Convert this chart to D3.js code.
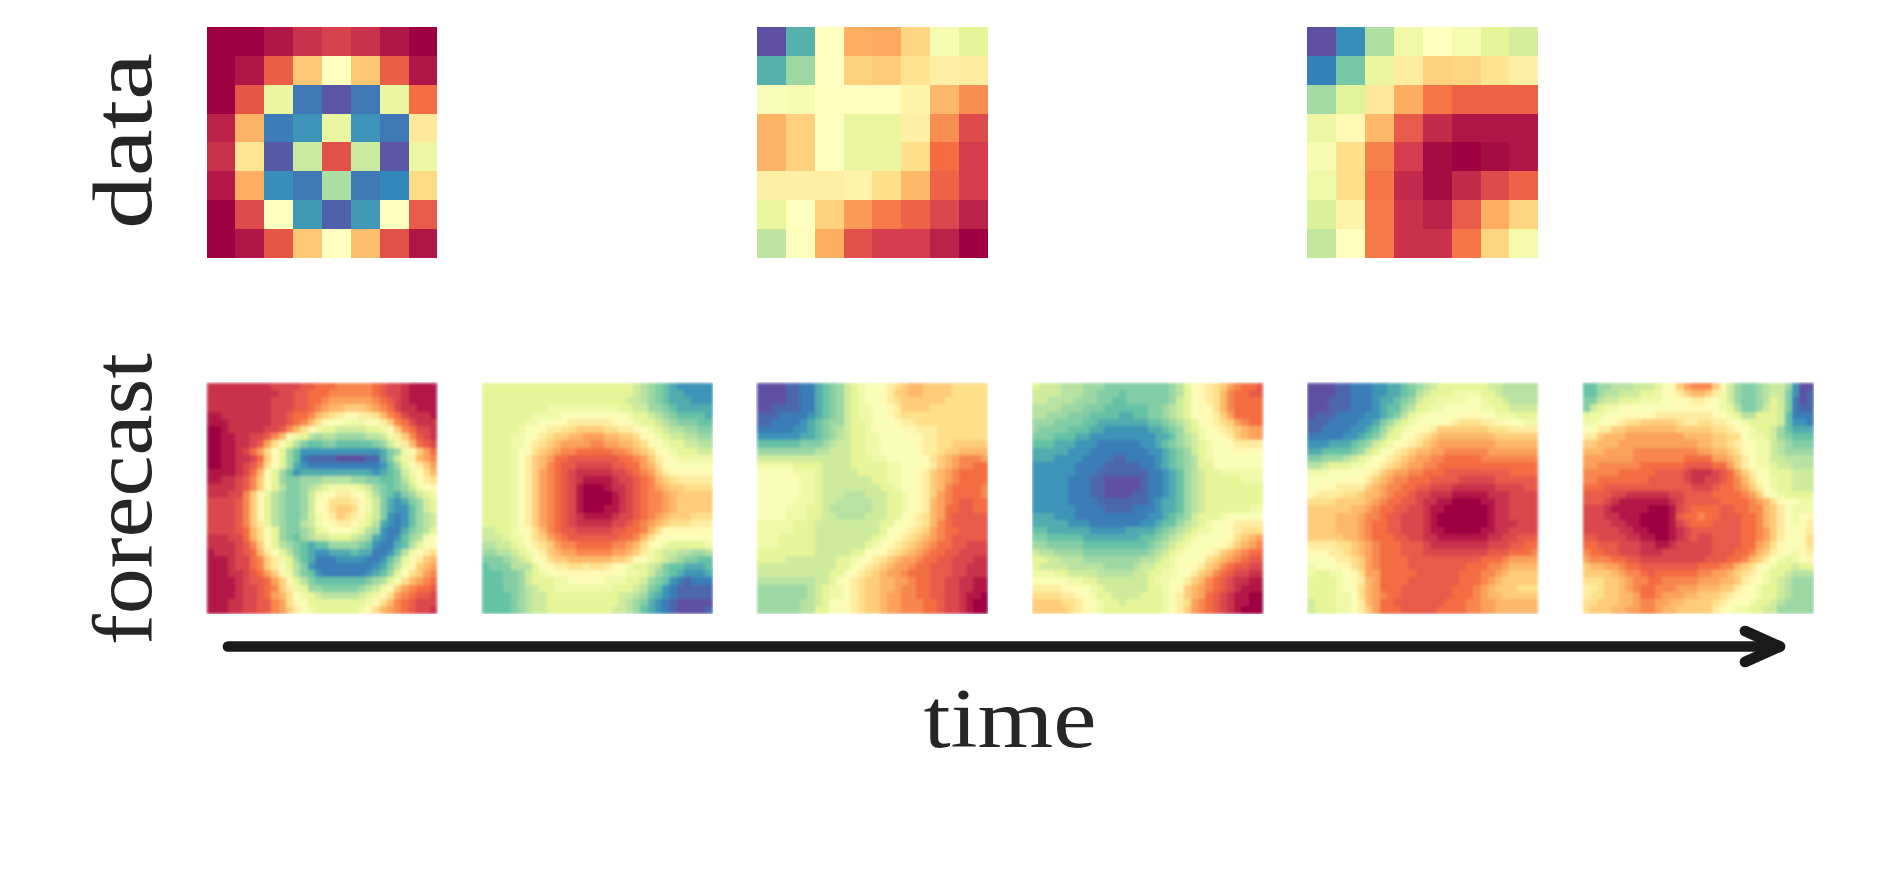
<!DOCTYPE html>
<html><head><meta charset="utf-8">
<script src="https://cdn.jsdelivr.net/npm/d3@7"></script>
<style>html,body{margin:0;padding:0;background:#fff}svg{display:block}</style>
</head><body><svg id="c" width="1904" height="872"></svg>
<script>
// Observed grids: values 0..1 on the colour scale.
const dataT0=[
[1,1,.97,.92,.89,.92,.97,1],
[1,.97,.83,.65,.5,.65,.83,.97],
[1,.85,.42,.07,.01,.07,.42,.8],
[.95,.69,.08,.12,.42,.12,.07,.57],
[.92,.58,.02,.35,.86,.35,.01,.43],
[.96,.7,.11,.07,.3,.07,.1,.61],
[1,.87,.5,.13,.03,.13,.5,.84],
[1,.97,.85,.65,.5,.67,.86,.97]];
const dataT2=[
[0,.17,.5,.7,.71,.62,.46,.4],
[.17,.28,.5,.63,.64,.59,.55,.56],
[.48,.47,.5,.5,.5,.54,.68,.75],
[.69,.63,.5,.42,.41,.55,.75,.87],
[.69,.63,.5,.42,.42,.6,.8,.9],
[.55,.55,.55,.54,.6,.68,.82,.9],
[.41,.5,.63,.73,.78,.82,.88,.95],
[.33,.49,.7,.86,.9,.9,.95,1]];
const dataT4=[
[0,.11,.31,.44,.5,.46,.4,.37],
[.09,.22,.42,.56,.63,.62,.59,.55],
[.29,.39,.57,.7,.79,.82,.82,.82],
[.43,.52,.68,.84,.93,.97,.97,.97],
[.47,.6,.77,.9,.99,1,.99,.97],
[.44,.6,.79,.93,.99,.93,.87,.82],
[.38,.54,.78,.92,.95,.84,.7,.62],
[.34,.5,.78,.92,.92,.79,.62,.45]];
// Forecast grids, 32x32, one letter per cell: a = 0 ... z = 1.
const forecastT0=[
"xxxxxxxx xwwwwvvu uutttttu vwwxyyyy","xxxxxxxx xxwwvvuu uttttttu vwwxyyyy","xxxxxxxx xwwwvvuu tsssssst uvwxyyyy","xxxxxxxx xwwwvvut srrqqqrs tuwxxyyy",
"yyxxxxxx xwwvuutr qponnoop rtuwxxxy","yyyxxxxx xwwvutrp nmmlllmm oqtuwxxx","zzyxxxxx wwvtrpnl kkjjjjkk lnqtuwwx","zzyyxxww vtrnlkih iihhhhii jloqtvwx",
"zzyyxxwv spmkigff ggfffffg hjloruvw","zzyyxwus pmkhfddd dddddddd eghlnqsu","zzyyxxwu qnkhfcbb bbaaaabb egjlorst","zzyyxwvt pmkhedcc cccccccc dfhkmoqs",
"yyyyxwur nkhfdeee eeeeeeed efgjlnpr","yyxxwvtq mkhgghhh iiiihhgg ffgikmop","xxxxwvtq nkigghij kllllkjh gfghjlmn","xxxwwtqn kihgghjl mnoonmki gfeghjkl",
"wwwwvtqn kihgghjm nppponlj gedeghjk","wwwwvtqn kihgghjm npqqpnlj geddfhjk","wwwwvtqn kihgghjl noqponkj gdcdfhij","wwwwvtqo kihggijl mnoonlki edcdfhij",
"wwwwvurp mkhgghik lmmmlkih dcceghik","xxxwwurp mkhgfhij jkkkjihe dcdfhilm","xxxxwvtq nkihgfef fhhhhgfd ccefikmn","yxxxwvur omkigfed deeefeec cdfilmop",
"yyyxwwut qolkhfec ccddddcc dfhkmoqr","yyyxwwut qomkigdc cccccccd egilnqrs","yyyxxwvu sqnligfd ccccccde fhkmpqst","yyyyxwvv usqnkigf ffffffgh ikmprstu",
"yyyyxwwv utqolkhh ggggghij lnqstuuv","yyyyxwwv usrpmlkj iiiiijkl npstuvvw","yyyxxwwv vtspnmkk kkkkkkln prtuvwww","yyyxxwwv vtsqomlk kkkkklnp rstuvwwx"];
const forecastT1=[
"kkkkkkkk kkkkkkkk kkkkkjih gfeddddd","kkkkkkkk kkkkkkkk kkkkkjih gfeedddd","kkkkkkkk kkkkkkkk kkkkjjih gfeeeddd","kkkkkkkk klllllll lllkkjjh hgfeeeee",
"kkkkkkkl lllmmmmm mmmmlkkj ihgffffe","kkkkkkll mmnnoooo oonnmlkk jihgggff","kkkkklmm nooppqqq qppoonml kjiihhgg","kkkkllmn opqqrrss srrqqpnm lkjjiihh",
"kkkkllmo pqrsssst tssrrqpn mlkkjjii","kkkklmnp qrsttuuu uuttsrqp nmlkkkjj","kkkklmoq rsuuvvvv vvvuutsq onmlllll","kkkklmoq rtuvvwww wwvvuusr pnmmmmmm",
"kkkklmoq stuvwxxx xxwwvuts qonnnnnn","kkkklmoq stuvwxyy yyxwwvut rqpooooo","kkkklmoq stuvwyzz zyxxwvut srqqpppp","kkkklmoq stuvwyzz zzyxwvut tsrqqqqq",
"kkkklmoq stuvwyzz zzyxwvut tsrqqqqq","kkkklmoq stuvwyzz zyyxwvut tsrqqqqq","kkkklmoq stuvwxyy yyxwwvut srqqqppp","kkkklmoq stuvwxxx xxwwvuts rqpppooo",
"jjkklmnp rtuvvwww wwvvuutr pnnnnnnn","jjjkllnp qstuvvvv vvvuutrp nmmmmmmm","iijjklmo pqsttuuu uuttsrpn mlkkkkkl","hhiijklm oqrssttt ttssrqol kjjiihhi",
"ggghijkm npqqrrrr rrqqpnml kjihggff","fgggiiik mnooppop ponmlkkj igffeeef","fffgghjk lmmnnnnn nnmmllkj hgfeddde","fffgghjk kkllmmmm mlllkkjh gfdcbccc",
"fffgghij kkllllll llkkkjig fdcbbbbb","ffffghij jkkkkkkk kkkjjihf edcbbbbb","ffffghij jkkkkkkk kkkjihge dcbaaaaa","ffffghij jkkkkkkk kkjjihfe dcbaaaab"];
const forecastT2=[
"aaaabbcc efghjklm mmopqrrq qqqppppp","aaaabbcc efghjklm mnoqqrrq qqqppppp","aaaabbcc efghjklm mnopqqqq qqpppppp","aabbbbcc efghjkll mmnoqqqq pppppppp",
"bbbccccd efghjkll mmnopppp pppppppp","bbccccde fghhjkkl mmmnoopp pppppppp","cccccdde fghijkkl mmmmnnoo oppppppp","ddddddee fghijkkl lmmmmnno oppppppp",
"ffffffgg ghijjkkl lmmmmmno oppqqqqq","hhhhhhhh iijjjkkl lmmmmmno opqqrrrr","jjjjjjjj jjjjjkkk llmmmmmn pqrsttts","lllllkkk kjjjjkkk kkllmmmn oqrsttuu",
"mmmmmlll kjjjjjkk kkllmmno qrstuuuu","mmmmmmll kjjjjjjj kkllmmno qrstuuuu","mmmmmmll kjjjjjjj jkklmmno qrtuuuut","mmmmmmll kjjjiiij jjkklmno qstuuuut",
"mmmmmlll kjjiiiii jjkklmno rstuvvuu","mmmmlllk kjiiiiii jjkklmno rsuuvvuu","mmmmlllk kjjiiiij jjkkmnop rsuvvvvv","lllllkkk jjjjjjjj jkkmmnop rtuvvvvv",
"lllllkkk jjjjjjjj jkmmnopq stuuvvvv","lllkkkkk jjjjjjjj klmnopqr stuvvvvv","lllkkkkk jjjjjjjk lmnopqrs tuuvvwww","kkkkkkkk jjjjjkkm mnopqrst uuvvwwww",
"kkkkjjjj jjjkklmm opqrsstu uvvwwwxx","jjjjjjjj jjjkkmmo pqrsstuu vvvwwxxx","jjjjjjjj jjkkmmop qrsstuuu vvvwwxxx","iiiiiiii jjkmmopq qrrsstuu vvwwxxyy",
"hhhhhhhi jkllnopq qrrsttuu vvwwxxyy","hhhhhhhi jkllmopq qrssttuu vvwwxyyz","hhhhhhii jkmmnopq qrsstttu uvwwxyzz","hhhhhhii kkmmnopq qrsstttu uvwwxyzz"];
const forecastT3=[
"kjjjiiih hhgggggg ggghikmn opqstuuv","jjjjiiih hgggfggg ggghikmn oprtuuvv","jjiiiihh hggffggg ggghjkmn oprtuuuu","iiiihhhg ggffffff gghijkmn nprtuuuu",
"iihhhggg ffffeeff gghijkmn noqsuuuu","hhhggggf feeeeeee ffghijkm nopqstuu","hggggfff eedddddd eefghjkl mnopqrss","gggfffee dddddddd deefhijl mmnoqrss",
"fffeeedd dccccccd defghijk lmmnoooo","eeeeeddd cccccccc ddefghjk lmmmnnnn","eeeddddc cccbbccc cdefghik lmmmmmmm","ddddddcc ccbbbbbc cdefghik kmmmmmmm",
"ddddddcc cbbbbbbb ccdefhij kkllllll","dddddccc bbaaaaab ccdefhij kkkkklll","dddddccc bbaaaaab ccdefhij kkkkkkkk","dddddccc bbaaaabb ccdefhij kkkkkkkk",
"dddddccc cbbbbbbb cdeefhij kkkkkkkk","ddddddcc ccbbbbcc cdeefhij kkkkkkll","eeedddcc cccccccc ddefghjk kklmmmmm","eeeeeddd cccccccd deffhijk lmmnoooo",
"ffeeeeee dddddeee efghijkl lmmnoppp","ggfffffe eeeeeeef fghijklm mmmnpqrs","hhgggggf ffffffff ghijklmm mmnoqrst","jiihhhhg gggggggg hijklmmm noqrstuu",
"kkjjiiih hhhhhhhi ijklmmmn pqrstuvv","kjjjjiii iihhhhij jkklmmno qrtuvvww","lllkkjjj jiiiiijj kkllmmoq rtuvwwxx","mmmmmllk kjjjjjjj kllmmoqr tuvwxxyy",
"oooonnmm lkjjjjjj kklmnqrs tuvwxyyy","ppppoonm lkkjjjjk kklmoqrs uvwxyyzz","qqqqppon mlkkjkkk kklmopst uvwxyyzz","qqqqqpon mlkkkkkk kklmoqst uvwxyzzz"];
const forecastT4=[
"aaaabbcc cddeefgh ijkkkkkk kjjiiiii","aaaabbcc cddeefgi jkkkllll kkjiiiii","aaabbbcc cdeefghj kkllllmm lkkjiiii","aaabbbcc cdeffhik kllmmmmm llkkjjjj",
"abbbcccc ddefgikl mmmmmnnn mmlllkkk","bbbccccd deghjklm mmmnoppp oonnmmll","bbccccdd efhjklmn noqqqqqq qpppoooo","cccccdde fgikkmno pqrrrrrr rrqqqqqq",
"dddeeefg hjklmnop qrssssss ssrrrrrr","eeffffgh jkmmopqr rssttttt tsssssss","gghhhijk lmmopqrs sttuuuuu tttttttt","iijkkkll mmopqrss ttuuuuuu uuuuuuuu",
"lllmmmmm noqrsstt uuuvvvvv vvvvuuuu","mmmmmnnn oqrsttuu uvvvvwww wwvvvvvv","mmnnoooo qrsttuuv vwwwxxxx xxwwwwvv","nooooppq rrstuuvw wxxxyyyy yxxxwwww",
"ppppqqqq rstuuvvw xxyyzzzz yyxxwwww","qqqqqqrr stuuvvww xyyzzzzz zyxxwwww","qqqqrrrs ttuvvwww xyzzzzzz zyxxwwww","qqqqrrrs tuuvvwww xyzzzzzz zyxxxwww",
"qqqqrrrs tuuvvwww xyyzzzzz yyxxwwww","qqqqqrrs tuuuvvww xxyyyyyy yxxwwvvv","ooooppqr stuuuvvv wxxxxxxx xwwwvvuu","nnnoopqr stuuuvvv wwwwwwww wvvvuuut",
"mmmmoopq stuuuuvv vvvvvvvv uuutssss","lmmmnnpq stuuuuvv vvvvvvuu uttsrrrr","lkkllmnp ssuuuuuv vvvvvuuu ttsrqqqq","kkkklmno rsuuuuvv vvvvvuuu tsrqqqqq",
"kkkklmnp rsuuuvvv vvvvuuut srqqqppp","kkkkllmp rstuuvvv vvvvuuut srrqqqqq","jkkkllmo rsuuvvvv vvvuuutt ssrrrrrr","jkkkllmo qsuuuvvv vvuuuutt ssrrrrrr"];
const forecastT5=[
"ffhhiiij jjkmnqst ttqnjhgg hijjhdaa","ffhiijjj kklmnoqr rqoljhgg hijjgdab","ggijjkkk lllmmnno onmljhgg hikjgcab","gjkllmmm mmmmmnnn nnmlkigg hjkjgcbb",
"kllmmmnn nnoooooo oonmlkii kkkjfccc","llmmnopp qqqqqpoo ppoonmlk kkkjfddc","mmooqqrr rrrrrqqq qqpponml kkjhfeee","ooqrrrss ssssssrr rrqqppml lkjhgfff",
"qqrrrsss ssssssss rrqqponm lljihggg","rrrsssst tttttttt ssrrqpnm lljihhhh","ssssssst ttttttuu uussrqom lljjiiii","sstttttt uuuuuuvv vvuusqom llkjjiii",
"tttttuuu uuvvvvwx xxwvusqo mmkkkjjj","ttuuuuuu uvvvvvwx xwwvutrp nmlkkjjj","uuuvvvvv vvvvvvvw wwvuutsq omlkkjjj","vvvvwwxx xxxxwwvv vvuuuuts qnmlkkkk",
"vvvwxyyy yyyyxwvv vvvuuuut srpnmmll","wwwxyyyy yzzzywvu uuuvvuut trqomlll","wwwxxyyy zzzzyvuu tuuvvvuu trqomlmn","wwwwxxyy zzzzywvu uuvvvvuu trqomlmo",
"wwwwwxxy yzzzyxwv vvvvvvuu tsqonmno","vvwwwwxx yyzzyxwv wwvvvvuu tsqommnp","uuvvvwww xxyyxwww wwvvvvuu srpnmmnp","tuuvvwww xxxwwwww wwvvvuut rqonmlno",
"stttuuvv wwwwwwww wvvvuutr qomlklmn","qrrsstuu vvvvvvvv uuuttrqp nmlkkjkk","qqqqrstt uvuuuuuu ttssrqpo mlkkjiii","pppqqrst tuuttttt sssrrqon mlkjihhh",
"oopqqrst uutttsss rrrqqonm lkkjihhh","oppqqrrs uutsssrr qqqponnm lkkjihhh","ppqqqrrs ttssrrqq qqponmml kkjihhhh","pqqqrrss ttsrrqqq qqonmllk kjjhhhhh"];
const rowLabels=["data","forecast"];
const axisLabel="time";
const spectralColors=["#5e4fa2","#3288bd","#66c2a5","#abdda4","#e6f598","#ffffbf","#fee08b","#fdae61","#f46d43","#d53e4f","#9e0142"];

const dataGrids=[dataT0,null,dataT2,null,dataT4,null];
const decode=rows=>rows.map(r=>Array.from(r.replace(/ /g,""),ch=>(ch.charCodeAt(0)-97)/25));
const forecastGrids=[forecastT0,forecastT1,forecastT2,forecastT3,forecastT4,forecastT5].map(decode);

const svg=d3.select("#c");
const defs=svg.append("defs");
const soft=(id,s)=>defs.append("filter").attr("id",id).attr("x","0").attr("y","0").attr("width","1").attr("height","1")
  .append("feGaussianBlur").attr("stdDeviation",s).attr("edgeMode","duplicate");
soft("softData",.6); soft("softForecast",1.7);

const color=d3.scaleLinear().domain(d3.range(11).map(i=>i/10)).range(spectralColors).clamp(true);
const col=d3.scaleBand().domain(d3.range(6)).range([206.5,1813.5]).paddingInner(.1612);
const row=d3.scaleBand().domain([0,1]).range([27,613.5]).paddingInner(.351);

function drawGrid(grid,c,r,filterId){
  const n=grid.length;
  const cx=d3.scaleBand().domain(d3.range(n)).range([col(c),col(c)+col.bandwidth()]);
  const cy=d3.scaleBand().domain(d3.range(n)).range([row(r),row(r)+row.bandwidth()]);
  svg.append("g").attr("filter",`url(#${filterId})`).selectAll("g").data(grid).join("g").each(function(vals,j){
    d3.select(this).selectAll("rect").data(vals).join("rect")
      .attr("x",(d,i)=>cx(i)).attr("y",cy(j))
      .attr("width",(d,i)=>cx.bandwidth()+(i<n-1?.5:0)).attr("height",cy.bandwidth()+(j<n-1?.5:0))
      .attr("fill",d=>color(d)).attr("shape-rendering","crispEdges");
  });
}
dataGrids.forEach((g,c)=>{if(g)drawGrid(g,c,0,"softData")});
forecastGrids.forEach((g,c)=>drawGrid(g,c,1,"softForecast"));

const ink="#262626";
const font='"Liberation Serif",serif';
// Arrow
const arrow=svg.append("g").attr("fill","none").attr("stroke","#1a1a1a").attr("stroke-width",10.7).attr("stroke-linecap","round").attr("stroke-linejoin","round");
arrow.append("path").attr("d",d3.line()([[228,646.5],[1777,646.5]]));
arrow.append("path").attr("d",d3.line()([[1745,631],[1780,646.5],[1745,662]]));
// Labels
svg.append("text").text(axisLabel).attr("x",1010).attr("y",746.5).attr("text-anchor","middle")
  .attr("font-family",font).attr("font-size",84).attr("fill",ink)
  .attr("textLength",173).attr("lengthAdjust","spacingAndGlyphs");
const side=[{t:rowLabels[0],cy:141,len:176},{t:rowLabels[1],cy:499,len:292}];
side.forEach(s=>{
  svg.append("text").text(s.t).attr("transform",`translate(151,${s.cy}) rotate(-90)`).attr("text-anchor","middle")
    .attr("font-family",font).attr("font-size",84).attr("fill",ink)
    .attr("textLength",s.len).attr("lengthAdjust","spacingAndGlyphs");
});
</script></body></html>
